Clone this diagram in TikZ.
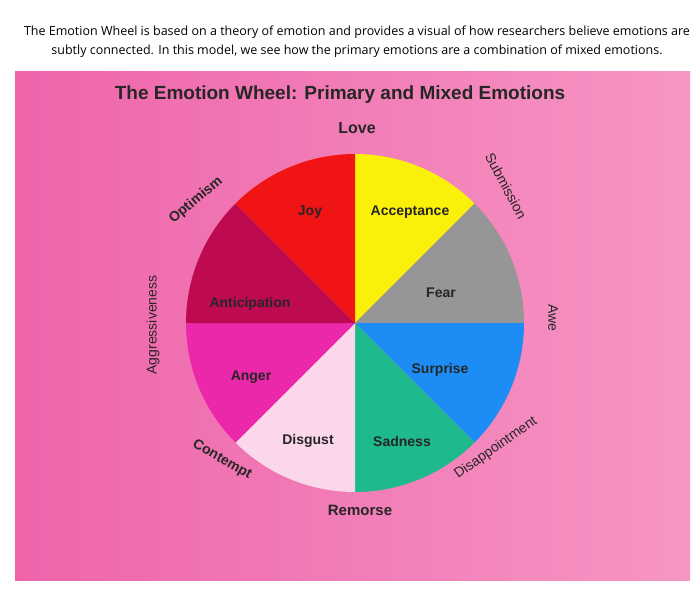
\documentclass[tikz,border=0pt]{standalone}
\usepackage{fontspec}
\setmainfont{Liberation Sans}
\newfontfamily\topfont{Open Sans}
\definecolor{pkL}{RGB}{238,100,170}
\definecolor{pkR}{RGB}{246,150,196}
\definecolor{cJoy}{RGB}{240,20,20}
\definecolor{cAcc}{RGB}{250,240,10}
\definecolor{cFear}{RGB}{150,150,150}
\definecolor{cSur}{RGB}{30,140,245}
\definecolor{cSad}{RGB}{30,185,140}
\definecolor{cDis}{RGB}{250,215,235}
\definecolor{cAng}{RGB}{235,40,170}
\definecolor{cAnt}{RGB}{190,10,80}
\begin{document}
\begin{tikzpicture}[x=1pt,y=-1pt,
  lab/.style={font=\fontsize{14}{16}\selectfont\bfseries, text=black!85},
  outl/.style={font=\fontsize{14}{16}\selectfont, text=black!85}]
\useasboundingbox (0,0) rectangle (700,599);
\fill[white] (0,0) rectangle (700,599);
\fill[left color=pkL, right color=pkR] (15,72) rectangle (690,580);
\node[font=\topfont\fontsize{12.5}{15}\selectfont] (t1) at (357,32) {The Emotion Wheel is based on a theory of emotion and provides a visual of how researchers believe emotions are};
\node[font=\topfont\fontsize{12.5}{15}\selectfont] (t2) at (357,51) {subtly connected. In this model, we see how the primary emotions are a combination of mixed emotions.};
\node[font=\fontsize{19}{22}\selectfont\bfseries, text=black!85] (title) at (340,95) {The Emotion Wheel: Primary and Mixed Emotions};
\coordinate (c) at (355,323);
\def\R{169}
% visual angles (counter-clockwise from east), flipped y => use negative
\foreach \a/\col in {90/cAcc, 45/cFear, 0/cSur, -45/cSad, -90/cDis, -135/cAng, 180/cAnt, 135/cJoy}{
  \fill[\col] (c) -- ++(-\a:\R) arc[start angle=-\a, delta angle=45, radius=\R] -- cycle;
}
\node[lab] (joy) at (310,212) {Joy};
\node[lab] (acc) at (410,212) {Acceptance};
\node[lab] (fear) at (441,293) {Fear};
\node[lab] (ant) at (250,304) {Anticipation};
\node[lab] (sur) at (440,370) {Surprise};
\node[lab] (ang) at (251,377) {Anger};
\node[lab] (dis) at (308,441) {Disgust};
\node[lab] (sad) at (402,441) {Sadness};
\node[lab,font=\fontsize{16}{18}\selectfont\bfseries] (love) at (357,128) {Love};
\node[outl, rotate=-62] (sub) at (506,186) {Submission};
\node[outl, rotate=-90] (awe) at (553,318) {Awe};
\node[outl, rotate=35] (disap) at (496,448) {Disappointment};
\node[lab,font=\fontsize{15}{17}\selectfont\bfseries] (rem) at (360,510) {Remorse};
\node[lab, rotate=-30] (con) at (222,460) {Contempt};
\node[outl, rotate=90] (agg) at (153,325) {Aggressiveness};
\node[lab, rotate=40] (opt) at (196,200) {Optimism};
\end{tikzpicture}
\end{document}
